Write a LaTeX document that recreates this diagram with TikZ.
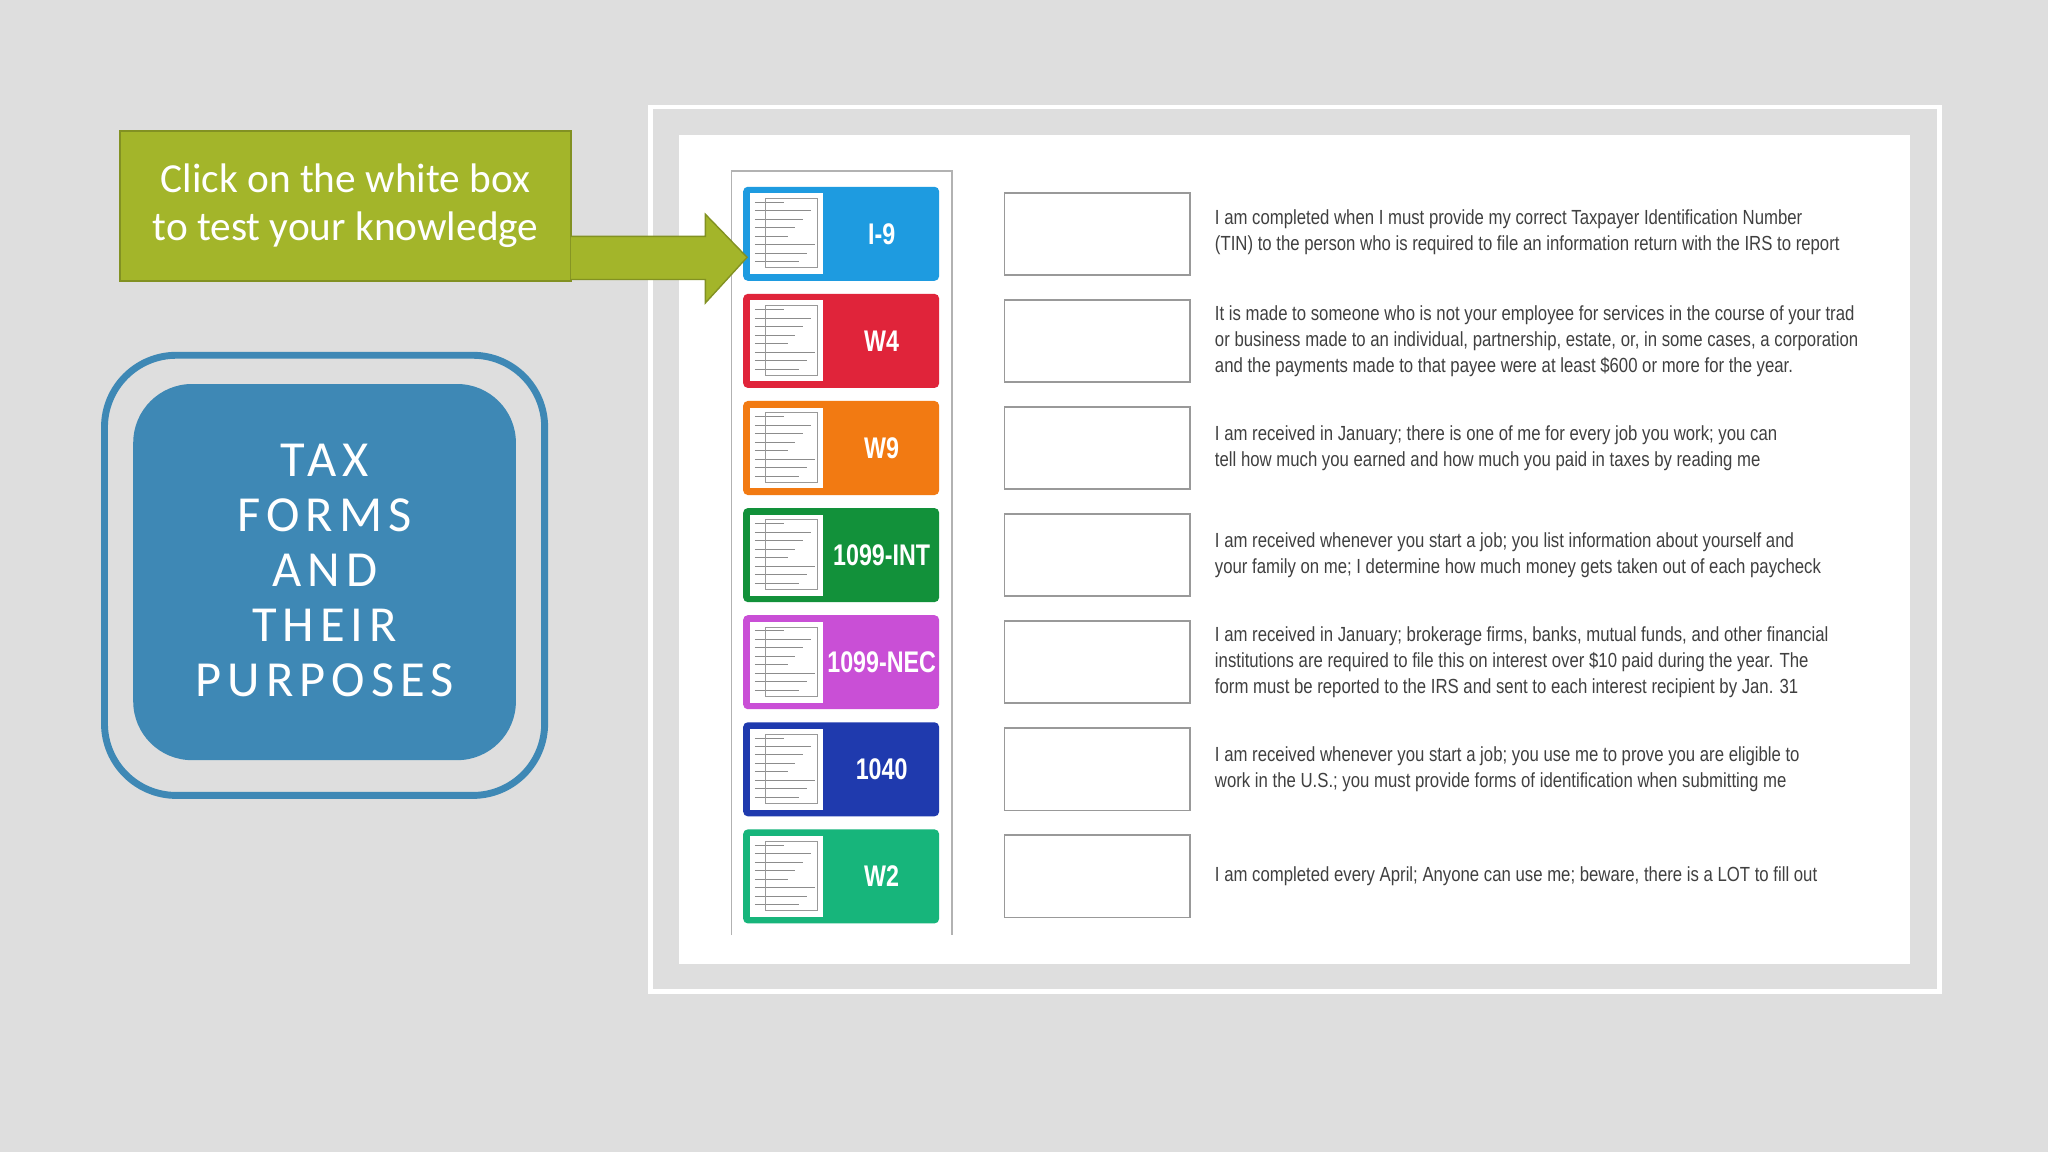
\documentclass[tikz,border=0pt]{standalone}
\usepackage{fontspec}
\setmainfont{Carlito}
\newfontfamily\condf{Liberation Sans}[FakeStretch=0.82]
\newfontfamily\condb{Liberation Sans}[FakeStretch=0.78]
\newfontfamily\spaced{Carlito}[LetterSpace=12]
\begin{document}
\begin{tikzpicture}[x=0.02cm,y=-0.02cm,
  tile/.style={draw=none,rounded corners=2pt,minimum width=150*0.02cm,minimum height=72*0.02cm},
  lbl/.style={text=white,font=\condb\bfseries\fontsize{13}{15}\selectfont},
  ans/.style={draw=black!40,line width=0.8pt,fill=white,minimum width=142*0.02cm,minimum height=63*0.02cm},
  desc/.style={anchor=west,align=left,text=black!75,font=\condf\fontsize{8.9}{11.3}\selectfont}]
\definecolor{bg}{HTML}{DEDEDE}
\definecolor{cI}{HTML}{1E9BE0}\definecolor{cWf}{HTML}{E0243A}\definecolor{cWn}{HTML}{F27A12}
\definecolor{cInt}{HTML}{12913A}\definecolor{cNec}{HTML}{C94FD6}\definecolor{cTen}{HTML}{1F3AAE}
\definecolor{cWt}{HTML}{17B57B}\definecolor{olive}{HTML}{A3B52A}\definecolor{steel}{HTML}{3E88B5}
\fill[bg] (0,0) rectangle (1568,882);
\useasboundingbox (0,0) rectangle (1568,882);
% frame
\draw[white,line width=2pt] (498,82) rectangle (1485,759);
\fill[white] (520,103) rectangle (1462,738);
\draw[black!30,line width=0.8pt] (560,716) -- (560,131) -- (729,131) -- (729,716);
% tiles
\foreach \c/\t/\n [count=\k from 0] in {cI/I-9/a,cWf/W4/b,cWn/W9/c,cInt/1099-INT/d,cNec/1099-NEC/e,cTen/1040/f,cWt/W2/g}{
  \node[tile,fill=\c] (tile\n) at (644,{179+82*\k}) {};
  \fill[white] (574,{148+82*\k}) rectangle (630,{210+82*\k});
  \foreach \j in {0,...,7}{\draw[black!45,line width=0.4pt] (578,{155+82*\k+6.5*\j}) -- ({600+3*mod(\j*7,9)},{155+82*\k+6.5*\j});}
  \draw[black!40,line width=0.3pt] (586,{152+82*\k}) rectangle (626,{205+82*\k});
  \node[lbl] (lab\n) at (675,{179+82*\k}) {\t};
  \node[ans] (box\n) at (840,{179+82*\k}) {};
}
\node[desc] (da) at (924,178) {I am completed when I must provide my correct Taxpayer Identification Number\\(TIN) to the person who is required to file an information return with the IRS to report};
\node[desc] (db) at (924,261) {It is made to someone who is not your employee for services in the course of your trad\\or business made to an individual, partnership, estate, or, in some cases, a corporation\\and the payments made to that payee were at least \$600 or more for the year.};
\node[desc] (dc) at (924,343) {I am received in January; there is one of me for every job you work; you can\\tell how much you earned and how much you paid in taxes by reading me};
\node[desc] (dd) at (924,425) {I am received whenever you start a job; you list information about yourself and\\your family on me; I determine how much money gets taken out of each paycheck};
\node[desc] (de) at (924,507) {I am received in January; brokerage firms, banks, mutual funds, and other financial\\institutions are required to file this on interest over \$10 paid during the year. The\\form must be reported to the IRS and sent to each interest recipient by Jan. 31};
\node[desc] (df) at (924,589) {I am received whenever you start a job; you use me to prove you are eligible to\\work in the U.S.; you must provide forms of identification when submitting me};
\node[desc] (dg) at (924,671) {I am completed every April; Anyone can use me; beware, there is a LOT to fill out};
% callout
\node[draw=olive!80!black,fill=olive,line width=0.8pt,minimum width=345*0.02cm,minimum height=115*0.02cm,align=center,text=white,font=\fontsize{18}{20.5}\selectfont] (call) at (264.5,157.5) {Click on the white box\\to test your knowledge};
\fill[olive,draw=olive!80!black,line width=0.6pt] (437,181) -- (540,181) -- (540,164) -- (572,197) -- (540,232) -- (540,214) -- (437,214);
\coordinate (tip) at (572,197);
% title
\draw[steel,line width=3pt,rounded corners=55*0.02cm] (80,272) rectangle (417,609);
\node[fill=steel,rounded corners=45*0.02cm,minimum width=293*0.02cm,minimum height=288*0.02cm] (tb) at (248.5,438) {};
\node[align=center,text=white,font=\spaced\fontsize{22}{24}\selectfont] (tt) at (248.5,437) {TAX\\FORMS\\AND\\THEIR\\PURPOSES};
\end{tikzpicture}
\end{document}
